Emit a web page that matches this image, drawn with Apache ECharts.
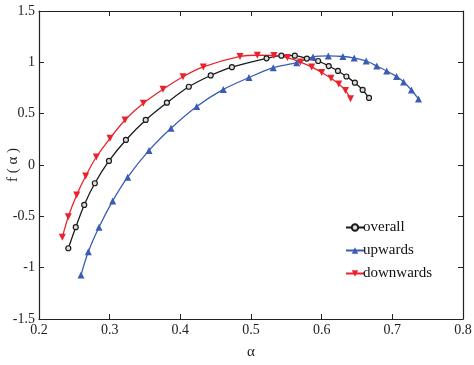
<!DOCTYPE html>
<html>
<head>
<meta charset="utf-8">
<script src="https://cdn.jsdelivr.net/npm/echarts@6/dist/echarts.min.js"></script>
<style>html,body{margin:0;padding:0;background:#fff;}#c{width:474px;height:365px;}</style>
</head>
<body>
<div id="c"></div>
<script>
// ---- data ----
var overallAlpha = [0.2415,0.252,0.264,0.279,0.299,0.323,0.351,0.381,0.412,0.443,0.473,0.522,0.543,0.562,0.579,0.595,0.610,0.623,0.635,0.647,0.658,0.667];
var overallF     = [-0.811,-0.606,-0.389,-0.178,0.040,0.244,0.439,0.607,0.762,0.872,0.953,1.039,1.065,1.065,1.037,1.013,0.964,0.916,0.862,0.802,0.731,0.653];

var upAlpha = [0.2594,0.2698,0.2849,0.3043,0.3255,0.3557,0.3868,0.4232,0.4608,0.4972,0.5315,0.5647,0.5877,0.6094,0.630,0.646,0.663,0.678,0.692,0.706,0.716,0.727,0.737];
var upF     = [-1.071,-0.844,-0.606,-0.350,-0.119,0.142,0.358,0.570,0.736,0.852,0.948,0.997,1.052,1.062,1.057,1.042,1.013,0.964,0.916,0.862,0.809,0.731,0.643];

var downAlpha = [0.233,0.2415,0.2533,0.2661,0.2811,0.3005,0.3217,0.3476,0.3755,0.4038,0.4325,0.4844,0.5089,0.5325,0.5516,0.570,0.5859,0.600,0.6132,0.6242,0.6337,0.6408];
var downF     = [-0.704,-0.503,-0.292,-0.107,0.078,0.260,0.439,0.601,0.738,0.860,0.955,1.057,1.069,1.067,1.047,1.003,0.955,0.901,0.845,0.789,0.726,0.646];

var seriesNames = ['overall','upwards','downwards'];
var xTicks = ['0.2','0.3','0.4','0.5','0.6','0.7','0.8'];
var yTicks = ['-1.5','-1','-0.5','0','0.5','1','1.5'];

function pairs(xs, ys){ return xs.map(function(x,i){ return [x, ys[i]]; }); }

var FONT = 'Liberation Serif';
var axisCommon = {
  axisLine:{show:true, onZero:false, lineStyle:{color:'#222', width:1.2}},
  axisTick:{show:true, inside:true, length:5, lineStyle:{color:'#222'}},
  splitLine:{show:false}
};

var chart = echarts.init(document.getElementById('c'), null, {renderer:'canvas'});
chart.setOption({
  animation:false,
  backgroundColor:'#fff',
  grid:{left:39, right:11, top:11, bottom:46, containLabel:false, outerBoundsMode:'none'},
  legend:{
    orient:'vertical', left:340, top:215, itemWidth:18, itemHeight:8, itemGap:8,
    data:seriesNames,
    textStyle:{fontFamily:FONT, fontSize:15, color:'#111', padding:[0,0,0,-6]}
  },
  xAxis:[
    Object.assign({type:'value', min:0.2, max:0.8, interval:0.1, position:'bottom',
      name:'α', nameLocation:'middle', nameGap:26, nameMoveOverlap:false,
      nameTextStyle:{fontFamily:FONT, fontSize:15, color:'#222'},
      axisLabel:{margin:4, fontFamily:FONT, fontSize:14, color:'#222',
        formatter:function(v){ var i=Math.round((v-0.2)/0.1); return xTicks[i]; }}
    }, axisCommon),
    Object.assign({type:'value', min:0.2, max:0.8, interval:0.1, position:'top',
      axisLabel:{show:false}}, axisCommon)
  ],
  yAxis:[
    Object.assign({type:'value', min:-1.5, max:1.5, interval:0.5, position:'left',
      name:'f ( α )', nameLocation:'middle', nameGap:18, nameRotate:90, nameMoveOverlap:false,
      nameTextStyle:{fontFamily:FONT, fontSize:15, color:'#222'},
      axisLabel:{margin:4, fontFamily:FONT, fontSize:14, color:'#222',
        formatter:function(v){ var i=Math.round((v+1.5)/0.5); return yTicks[i]; }}
    }, axisCommon),
    Object.assign({type:'value', min:-1.5, max:1.5, interval:0.5, position:'right',
      axisLabel:{show:false}}, axisCommon)
  ],
  series:[
    {name:seriesNames[0], type:'line', data:pairs(overallAlpha, overallF), smooth:0.3,
     symbol:'circle', symbolSize:5, showAllSymbol:true,
     lineStyle:{color:'#1a1a1a', width:1.3},
     itemStyle:{color:'#ddd', borderColor:'#1a1a1a', borderWidth:1.2}, color:'#1a1a1a'},
    {name:seriesNames[1], type:'line', data:pairs(upAlpha, upF), smooth:0.3,
     symbol:'triangle', symbolSize:7, showAllSymbol:true,
     lineStyle:{color:'#3a5cb4', width:1.3},
     itemStyle:{color:'#3a5cb4'}, color:'#3a5cb4'},
    {name:seriesNames[2], type:'line', data:pairs(downAlpha, downF), smooth:0.3,
     symbol:'triangle', symbolRotate:180, symbolSize:7, showAllSymbol:true,
     lineStyle:{color:'#e8232b', width:1.3},
     itemStyle:{color:'#e8232b'}, color:'#e8232b'}
  ]
});
</script>
</body>
</html>
